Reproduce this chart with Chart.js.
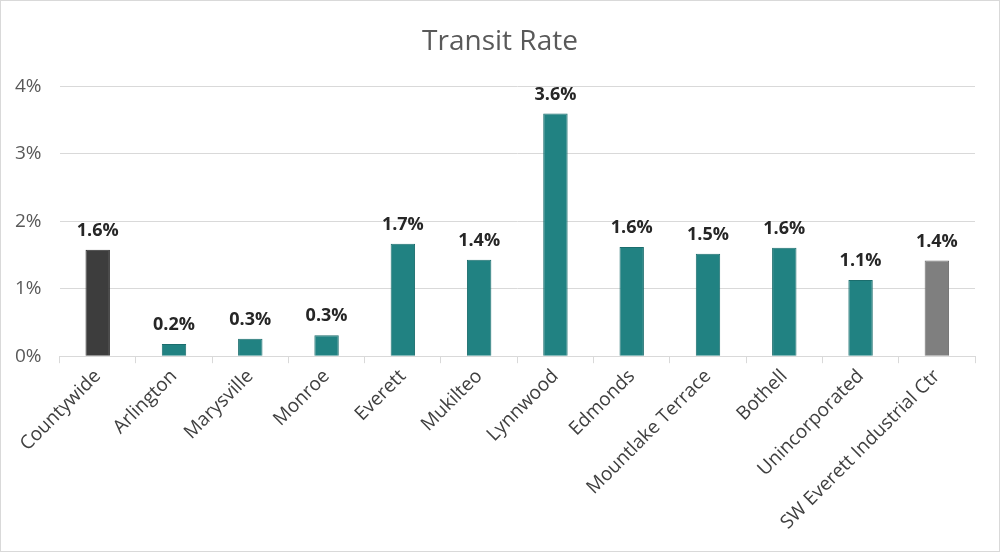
<!DOCTYPE html>
<html>
<head>
<meta charset="utf-8">
<script src="https://cdn.jsdelivr.net/npm/chart.js@4"></script>
<style>
  body { margin: 0; background: #fff; }
  #wrap { width: 1000px; height: 552px; box-sizing: border-box; border: 1px solid #d9d9d9; }
</style>
</head>
<body>
<div id="wrap"><canvas id="canva" width="998" height="550"></canvas></div>
<script>
const categories = [
  "Countywide", "Arlington", "Marysville", "Monroe", "Everett", "Mukilteo",
  "Lynnwood", "Edmonds", "Mountlake Terrace", "Bothell", "Unincorporated",
  "SW Everett Industrial Ctr",
];
const transitRate = [1.58, 0.18, 0.26, 0.31, 1.67, 1.43, 3.6, 1.62, 1.52, 1.61, 1.13, 1.42];
const barColors = [
  "#3d3d3d", "#218282", "#218282", "#218282", "#218282", "#218282",
  "#218282", "#218282", "#218282", "#218282", "#218282", "#7f7f7f",
];
const yTicks = [0, 1, 2, 3, 4];

// simple value labels above each bar
const valueLabels = {
  id: "valueLabels",
  afterLayout(chart) {
    // center the title on the whole canvas, not the padded box
    if (chart.titleBlock) {
      chart.titleBlock.left = 0;
      chart.titleBlock.right = chart.width;
    }
  },
  afterDatasetsDraw(chart) {
    const ctx = chart.ctx;
    const meta = chart.getDatasetMeta(0);
    ctx.save();
    ctx.font = "bold 18px 'Open Sans'";
    ctx.fillStyle = "#262626";
    ctx.textAlign = "center";
    ctx.textBaseline = "bottom";
    meta.data.forEach((bar, i) => {
      ctx.fillText(transitRate[i].toFixed(1) + "%", bar.x, bar.y - 10);
    });
    ctx.restore();
  },
};

const ctx = document.getElementById("canva").getContext("2d");
new Chart(ctx, {
  type: "bar",
  data: {
    labels: categories,
    datasets: [
      {
        data: transitRate,
        backgroundColor: barColors,
        borderColor: barColors.map((c) => (c === "#218282" ? "#1b6d6d" : c === "#3d3d3d" ? "#2a2a2a" : "#6f6f6f")),
        borderWidth: 1,
        categoryPercentage: 1,
        barPercentage: 0.32,
      },
    ],
  },
  plugins: [valueLabels],
  options: {
    responsive: false,
    animation: false,
    layout: { padding: { left: -4, right: 24, top: 8, bottom: 15 } },
    plugins: {
      legend: { display: false },
      tooltip: { enabled: false },
      title: {
        display: true,
        text: "Transit Rate",
        color: "#595959",
        font: { family: "'Open Sans'", size: 28, weight: "normal" },
        padding: { top: 16, bottom: 28 },
      },
    },
    scales: {
      y: {
        min: 0,
        max: 4,
        afterBuildTicks(axis) {
          axis.ticks = yTicks.map((v) => ({ value: v }));
        },
        border: { display: false },
        grid: { color: "#d9d9d9", drawTicks: false },
        ticks: {
          color: "#595959",
          font: { family: "'Open Sans'", size: 19 },
          padding: 18,
          callback: (v) => v + "%",
        },
      },
      x: {
        border: { color: "#d9d9d9" },
        grid: { color: "#d9d9d9", drawOnChartArea: false, tickLength: 7 },
        ticks: {
          color: "#404040",
          font: { family: "'Open Sans'", size: 19 },
          minRotation: 45,
          maxRotation: 45,
          padding: 2,
        },
      },
    },
  },
});
</script>
</body>
</html>
